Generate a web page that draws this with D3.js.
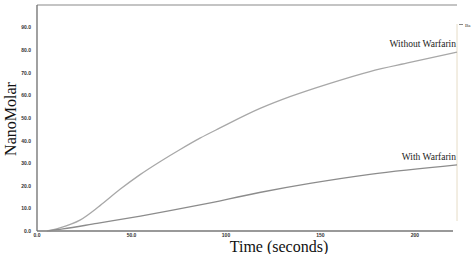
<!DOCTYPE html>
<html>
<head>
<meta charset="utf-8">
<script src="https://cdn.jsdelivr.net/npm/d3@7"></script>
<style>
  body { margin: 0; background: #fff; }
  svg { display: block; }
</style>
</head>
<body>
<div id="chart"></div>
<script>
// time in seconds, concentration in nM
const timesWithout = [5.5, 12.4, 23, 33.6, 44.2, 54.8, 65.3, 76, 86.5, 97.1, 118.3, 134.1, 155.3, 176.4, 197.6, 222.5]
const withoutWarfarin = [0, 1.4, 4.8, 11.2, 18.4, 24.9, 30.6, 36.0, 41.0, 45.5, 54.1, 59.3, 65.2, 70.4, 74.4, 79.0]
const timesWith = [5.5, 14, 32, 55, 86.5, 118, 144.7, 176.4, 222.5]
const withWarfarin = [0, 0.9, 3.4, 6.6, 11.5, 17.0, 21.0, 25.0, 29.2]

const xTicks = [0, 50, 100, 150, 200]
const xTickLabels = ["0.0", "50.0", "100", "150", "200"]
const yTicks = [0, 10, 20, 30, 40, 50, 60, 70, 80, 90]
const yTickLabels = ["0.0", "10.0", "20.0", "30.0", "40.0", "50.0", "60.0", "70.0", "80.0", "90.0"]

const width = 474
const height = 254

const svg = d3.select("#chart").append("svg")
  .attr("width", width)
  .attr("height", height)
  .attr("viewBox", [0, 0, width, height])

const xScale = d3.scaleLinear().domain([0, 222.5]).range([36.5, 457])
const yScale = d3.scaleLinear().domain([0, 100]).range([231, 4.5])

// frame: top border, right beige line
svg.append("line")
  .attr("x1", 37).attr("x2", 457)
  .attr("y1", 5).attr("y2", 5)
  .attr("stroke", "#8a8a8a").attr("stroke-width", 1.2)

svg.append("line")
  .attr("x1", 457).attr("x2", 457)
  .attr("y1", 24).attr("y2", 221)
  .attr("stroke", "#e6dcc6").attr("stroke-width", 1)

// little legend stub at right
svg.append("line")
  .attr("x1", 459).attr("x2", 463)
  .attr("y1", 24.5).attr("y2", 24.5)
  .attr("stroke", "#666").attr("stroke-width", 0.8)
svg.append("text")
  .attr("x", 465).attr("y", 26.5)
  .attr("font-family", "Liberation Serif, serif")
  .attr("font-size", 5)
  .attr("fill", "#333")
  .text("Ba")

// axes
const axisX = svg.append("g")
  .attr("transform", `translate(0,231)`)
  .call(d3.axisBottom(xScale)
    .tickValues(xTicks)
    .tickFormat((d, i) => xTickLabels[i])
    .tickSize(0)
    .tickPadding(2))
axisX.select(".domain").remove()
axisX.append("line")
  .attr("x1", 37).attr("x2", 453)
  .attr("stroke", "#777").attr("stroke-width", 1.3)

const axisY = svg.append("g")
  .attr("transform", `translate(37,0)`)
  .call(d3.axisLeft(yScale)
    .tickValues(yTicks)
    .tickFormat((d, i) => yTickLabels[i])
    .tickSize(0)
    .tickPadding(6))
axisY.select(".domain").remove()
axisY.append("line")
  .attr("y1", 5).attr("y2", 231)
  .attr("stroke", "#6e6e6e").attr("stroke-width", 1.3)

svg.selectAll(".tick text")
  .attr("font-family", "Liberation Sans, Arial, sans-serif")
  .attr("font-size", 5)
  .attr("font-weight", "bold")
  .attr("fill", "#333")

// lines
const line = times => d3.line()
  .x((d, i) => xScale(times[i]))
  .y(d => yScale(d))
  .curve(d3.curveMonotoneX)

svg.append("path")
  .datum(withoutWarfarin)
  .attr("d", line(timesWithout))
  .attr("fill", "none")
  .attr("stroke", "#a8a8a8")
  .attr("stroke-width", 1.3)

svg.append("path")
  .datum(withWarfarin)
  .attr("d", line(timesWith))
  .attr("fill", "none")
  .attr("stroke", "#8c8c8c")
  .attr("stroke-width", 1.3)

// series labels
svg.append("text")
  .attr("x", 456).attr("y", 47)
  .attr("text-anchor", "end")
  .attr("font-family", "Liberation Serif, serif")
  .attr("font-size", 9.5)
  .attr("fill", "#222")
  .text("Without Warfarin")

svg.append("text")
  .attr("x", 456).attr("y", 160)
  .attr("text-anchor", "end")
  .attr("font-family", "Liberation Serif, serif")
  .attr("font-size", 9.5)
  .attr("fill", "#222")
  .text("With Warfarin")

// axis titles
svg.append("text")
  .attr("x", 279).attr("y", 252)
  .attr("text-anchor", "middle")
  .attr("font-family", "Liberation Serif, serif")
  .attr("font-size", 16)
  .attr("fill", "#111")
  .text("Time (seconds)")

svg.append("text")
  .attr("transform", "translate(16,119) rotate(-90)")
  .attr("text-anchor", "middle")
  .attr("font-family", "Liberation Serif, serif")
  .attr("font-size", 16)
  .attr("fill", "#111")
  .text("NanoMolar")
</script>
</body>
</html>
